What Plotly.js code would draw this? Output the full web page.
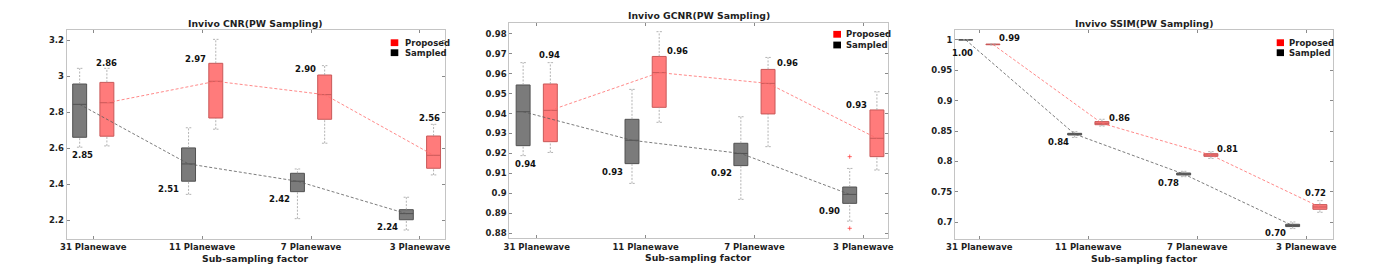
<!DOCTYPE html>
<html><head><meta charset="utf-8">
<script src="https://cdn.plot.ly/plotly-3.0.1.min.js"></script>
<style>html,body{margin:0;padding:0;background:#fff}#chart{width:1384px;height:273px}</style>
</head><body><div id="chart"></div>
<script>
// ---------------- DATA ----------------
const categories = ['31 Planewave', '11 Planewave', '7 Planewave', '3 Planewave'];

// CNR
const cnrSampledLow    = [2.606, 2.344, 2.209, 2.146];
const cnrSampledQ1     = [2.661, 2.417, 2.359, 2.203];
const cnrSampledMedian = [2.844, 2.513, 2.417, 2.237];
const cnrSampledQ3     = [2.957, 2.602, 2.461, 2.259];
const cnrSampledHigh   = [3.044, 2.714, 2.485, 2.328];
const cnrProposedLow    = [2.613, 2.706, 2.628, 2.452];
const cnrProposedQ1     = [2.667, 2.768, 2.761, 2.489];
const cnrProposedMedian = [2.853, 2.972, 2.898, 2.561];
const cnrProposedQ3     = [2.966, 3.072, 3.007, 2.668];
const cnrProposedHigh   = [3.044, 3.205, 3.059, 2.733];
const cnrSampledLabels  = ['2.85', '2.51', '2.42', '2.24'];
const cnrProposedLabels = ['2.86', '2.97', '2.90', '2.56'];

// GCNR
const gcnrSampledLow    = [0.9189, 0.9050, 0.8970, 0.8861];
const gcnrSampledQ1     = [0.9239, 0.9149, 0.9139, 0.8950];
const gcnrSampledMedian = [0.9409, 0.9266, 0.9200, 0.8995];
const gcnrSampledQ3     = [0.9543, 0.9371, 0.9251, 0.9032];
const gcnrSampledHigh   = [0.9655, 0.9521, 0.9384, 0.9125];
const gcnrProposedLow    = [0.9205, 0.9356, 0.9234, 0.9117];
const gcnrProposedQ1     = [0.9259, 0.9431, 0.9398, 0.9184];
const gcnrProposedMedian = [0.9416, 0.9605, 0.9551, 0.9276];
const gcnrProposedQ3     = [0.9548, 0.9686, 0.9621, 0.9418];
const gcnrProposedHigh   = [0.9655, 0.9810, 0.9681, 0.9509];
const gcnrSampledOutlierCat = [3, 3];
const gcnrSampledOutliers   = [0.9184, 0.8825];
const gcnrSampledLabels  = ['0.94', '0.93', '0.92', '0.90'];
const gcnrProposedLabels = ['0.94', '0.96', '0.96', '0.93'];

// SSIM
const ssimSampledLow    = [0.9993, 0.8395, 0.7750, 0.6897];
const ssimSampledQ1     = [0.9996, 0.8435, 0.7778, 0.6930];
const ssimSampledMedian = [0.9998, 0.8450, 0.7794, 0.6946];
const ssimSampledQ3     = [1.0000, 0.8462, 0.7810, 0.6968];
const ssimSampledHigh   = [1.0000, 0.8490, 0.7838, 0.7006];
const ssimProposedLow    = [0.9915, 0.8582, 0.8051, 0.7165];
const ssimProposedQ1     = [0.9918, 0.8604, 0.8084, 0.7214];
const ssimProposedMedian = [0.9923, 0.8627, 0.8106, 0.7252];
const ssimProposedQ3     = [0.9928, 0.8655, 0.8128, 0.7291];
const ssimProposedHigh   = [0.9930, 0.8693, 0.8161, 0.7356];
const ssimSampledLabels  = ['1.00', '0.84', '0.78', '0.70'];
const ssimProposedLabels = ['0.99', '0.86', '0.81', '0.72'];

// ---------------- LAYOUT / STYLE ----------------
const W = 1384, H = 273;
const px2x = p => p / W;
const px2y = p => 1 - p / H;
const FONT = 'DejaVu Sans';
const TXT = '#1e1e1e';
const OFF = 0.125, BOXW = 0.128, CAPW = 0.025;

const panels = [
  {
    title: 'Invivo CNR(PW Sampling)',
    left: 66.7, right: 445, top: 30, bottom: 239, titleY: 23.3, axTitleY: 258.3,
    xrange: [-0.244, 3.23], yrange: [2.096, 3.257],
    tickvals: [2.2, 2.4, 2.6, 2.8, 3.0, 3.2], ticktext: ['2.2', '2.4', '2.6', '2.8', '3', '3.2'],
    s: [cnrSampledLow, cnrSampledQ1, cnrSampledMedian, cnrSampledQ3, cnrSampledHigh],
    p: [cnrProposedLow, cnrProposedQ1, cnrProposedMedian, cnrProposedQ3, cnrProposedHigh],
    sl: cnrSampledLabels, pl: cnrProposedLabels,
    slPos: [[-0.095, 2.563], [0.692, 2.376], [1.708, 2.318], [2.70, 2.161]],
    plPos: [[0.117, 3.076], [0.943, 3.094], [1.947, 3.039], [3.092, 2.770]],
    legSq: [390.7, 398.3], legText: 403, legY: [42.7, 52.7],
    outCat: [], out: []
  },
  {
    title: 'Invivo GCNR(PW Sampling)',
    left: 509.3, right: 887.7, top: 22.7, bottom: 238.3, titleY: 15, axTitleY: 257.3,
    xrange: [-0.252, 3.224], yrange: [0.8775, 0.9855],
    tickvals: [0.88, 0.89, 0.90, 0.91, 0.92, 0.93, 0.94, 0.95, 0.96, 0.97, 0.98],
    ticktext: ['0.88', '0.89', '0.9', '0.91', '0.92', '0.93', '0.94', '0.95', '0.96', '0.97', '0.98'],
    s: [gcnrSampledLow, gcnrSampledQ1, gcnrSampledMedian, gcnrSampledQ3, gcnrSampledHigh],
    p: [gcnrProposedLow, gcnrProposedQ1, gcnrProposedMedian, gcnrProposedQ3, gcnrProposedHigh],
    sl: gcnrSampledLabels, pl: gcnrProposedLabels,
    slPos: [[-0.107, 0.9147], [0.698, 0.9109], [1.699, 0.9104], [2.693, 0.8913]],
    plPos: [[0.114, 0.9692], [1.291, 0.9715], [2.308, 0.9652], [2.939, 0.9443]],
    legSq: [833.3, 841], legText: 844.3, legY: [34.3, 45],
    outCat: gcnrSampledOutlierCat, out: gcnrSampledOutliers
  },
  {
    title: 'Invivo SSIM(PW Sampling)',
    left: 955, right: 1333.3, top: 30, bottom: 239, titleY: 23.3, axTitleY: 258.3,
    xrange: [-0.223, 3.248], yrange: [0.6726, 1.016],
    tickvals: [0.7, 0.75, 0.8, 0.85, 0.9, 0.95, 1.0], ticktext: ['0.7', '0.75', '0.8', '0.85', '0.9', '0.95', '1'],
    s: [ssimSampledLow, ssimSampledQ1, ssimSampledMedian, ssimSampledQ3, ssimSampledHigh],
    p: [ssimProposedLow, ssimProposedQ1, ssimProposedMedian, ssimProposedQ3, ssimProposedHigh],
    sl: ssimSampledLabels, pl: ssimProposedLabels,
    slPos: [[-0.152, 0.9787], [0.725, 0.8325], [1.734, 0.7642], [2.722, 0.682]],
    plPos: [[0.275, 1.0023], [1.284, 0.871], [2.275, 0.82], [3.083, 0.7478]],
    legSq: [1276.7, 1284], legText: 1286.7, legY: [42.7, 52.7],
    outCat: [], out: []
  }
];

const series = {
  s: { off: -OFF, fill: '#7b7b7b', edge: '#525252', line: '#5a5a5a' },
  p: { off: OFF, fill: '#ff7b7b', edge: '#c95858', line: '#ff6b6b' }
};

const data = [];
const layout = {
  width: W, height: H,
  margin: { l: 0, r: 0, t: 0, b: 0 },
  paper_bgcolor: '#fff', plot_bgcolor: '#fff',
  showlegend: false,
  font: { family: FONT, size: 8.5, color: TXT, weight: 'bold' },
  annotations: [], shapes: []
};

panels.forEach((pn, k) => {
  const n = k === 0 ? '' : String(k + 1);
  const xa = 'x' + n, ya = 'y' + n;
  const idx = categories.map((_, i) => i);

  ['s', 'p'].forEach(key => {
    const st = series[key];
    const [lo, q1, med, q3, hi] = pn[key];
    const cx = idx.map(i => i + st.off);
    data.push({
      type: 'box', xaxis: xa, yaxis: ya,
      x: cx, q1: q1, median: med, q3: q3, lowerfence: q1, upperfence: q3,
      width: BOXW, whiskerwidth: 0, boxpoints: false,
      fillcolor: st.fill, line: { color: st.edge, width: 1 },
      hoverinfo: 'skip'
    });
    const wx = [], wy = [];
    cx.forEach((c, i) => {
      wx.push(c, c, null, c, c, null, c - CAPW, c + CAPW, null, c - CAPW, c + CAPW, null);
      wy.push(lo[i], q1[i], null, q3[i], hi[i], null, lo[i], lo[i], null, hi[i], hi[i], null);
    });
    data.push({
      type: 'scatter', mode: 'lines', xaxis: xa, yaxis: ya, x: wx, y: wy,
      line: { color: '#a0a0a0', width: 0.8, dash: '2px,1.5px' }, hoverinfo: 'skip', connectgaps: false
    });
  });
  ['s', 'p'].forEach(key => {
    const st = series[key];
    data.push({
      type: 'scatter', mode: 'lines', xaxis: xa, yaxis: ya,
      x: idx.map(i => i + st.off), y: pn[key][2],
      line: { color: st.line, width: 0.8, dash: '3px,2px' }, hoverinfo: 'skip'
    });
  });
  if (pn.out.length) {
    data.push({
      type: 'scatter', mode: 'markers', xaxis: xa, yaxis: ya,
      x: pn.outCat.map(i => i + series.s.off), y: pn.out,
      marker: { symbol: 'cross-thin', size: 3, line: { color: '#ff4040', width: 0.8 } }, hoverinfo: 'skip'
    });
  }

  layout['xaxis' + n] = {
    domain: [px2x(pn.left), px2x(pn.right)], anchor: ya, range: pn.xrange,
    tickvals: idx, ticktext: categories, ticks: 'inside', ticklen: 3, tickcolor: '#8a8a8a',
    showline: true, linecolor: '#c4c4c4', linewidth: 1, mirror: 'ticks',
    showgrid: false, zeroline: false,
    tickfont: { family: FONT, size: 8.5, color: TXT, weight: 'bold' }
  };
  layout['yaxis' + n] = {
    domain: [px2y(pn.bottom), px2y(pn.top)], anchor: xa, range: pn.yrange,
    tickvals: pn.tickvals, ticktext: pn.ticktext, ticks: 'inside', ticklen: 3, tickcolor: '#8a8a8a',
    showline: true, linecolor: '#c4c4c4', linewidth: 1, mirror: 'ticks',
    showgrid: false, zeroline: false,
    tickfont: { family: FONT, size: 8.5, color: TXT, weight: 'bold' }
  };

  const cxp = (pn.left + pn.right) / 2;
  layout.annotations.push({
    xref: 'paper', yref: 'paper', x: px2x(cxp), y: px2y(pn.titleY), xanchor: 'center', yanchor: 'middle',
    text: pn.title, showarrow: false, font: { family: FONT, size: 9.3, color: TXT, weight: 'bold' }
  });
  layout.annotations.push({
    xref: 'paper', yref: 'paper', x: px2x(cxp), y: px2y(pn.axTitleY), xanchor: 'center', yanchor: 'middle',
    text: 'Sub-sampling factor', showarrow: false, font: { family: FONT, size: 9.3, color: TXT, weight: 'bold' }
  });
  pn.sl.forEach((t, i) => layout.annotations.push({
    xref: xa, yref: ya, x: pn.slPos[i][0], y: pn.slPos[i][1], text: t, showarrow: false,
    xanchor: 'center', yanchor: 'middle', font: { family: FONT, size: 8.5, color: '#111', weight: 'bold' }
  }));
  pn.pl.forEach((t, i) => layout.annotations.push({
    xref: xa, yref: ya, x: pn.plPos[i][0], y: pn.plPos[i][1], text: t, showarrow: false,
    xanchor: 'center', yanchor: 'middle', font: { family: FONT, size: 8.5, color: '#111', weight: 'bold' }
  }));
  [['Proposed', '#ff0000'], ['Sampled', '#000000']].forEach(([name, col], j) => {
    const yc = pn.legY[j];
    layout.shapes.push({
      type: 'rect', xref: 'paper', yref: 'paper',
      x0: px2x(pn.legSq[0]), x1: px2x(pn.legSq[1]), y0: px2y(yc + 3.4), y1: px2y(yc - 3.4),
      fillcolor: col, line: { width: 0 }
    });
    layout.annotations.push({
      xref: 'paper', yref: 'paper', x: px2x(pn.legText), y: px2y(yc), xanchor: 'left', yanchor: 'middle',
      text: name, showarrow: false, font: { family: FONT, size: 8.5, color: TXT, weight: 'bold' }
    });
  });
});

Plotly.newPlot('chart', data, layout, { staticPlot: true });
</script>
</body></html>
